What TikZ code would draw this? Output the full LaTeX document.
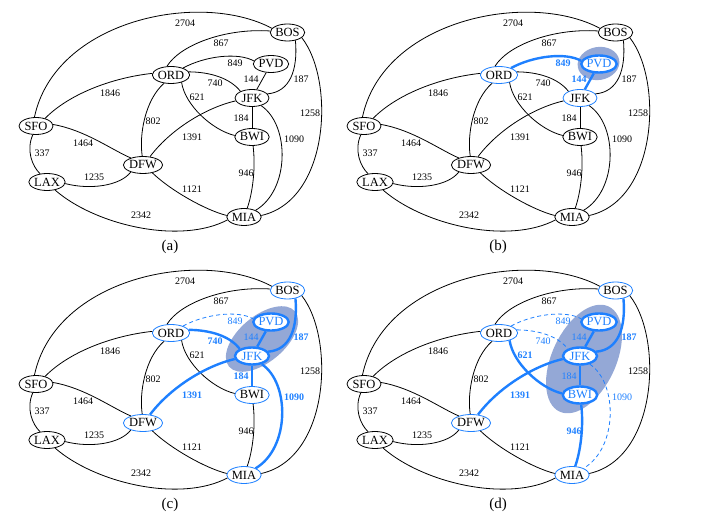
\documentclass[tikz,border=0pt]{standalone}
\usepackage{fontspec}
\setmainfont{Liberation Serif}
\usetikzlibrary{shapes.geometric}
\definecolor{blueC}{RGB}{30,128,255}
\definecolor{cloudC}{RGB}{148,168,214}
\newcommand\nodefont{\fontsize{12.5}{13}\selectfont}
\newcommand\labfont{\fontsize{10}{11}\selectfont}
\newcommand\capfont{\fontsize{15}{17}\selectfont}
\tikzset{
  airport/.style={ellipse, draw=black, line width=0.8pt, fill=white, minimum width=34pt, minimum height=17pt, inner sep=0pt, font=\nodefont},
  road/.style={draw=black, line width=0.8pt},
  wlab/.style={font=\labfont, inner sep=0pt},
  caplab/.style={font=\capfont, inner sep=0pt},
  visited/.style={draw=blueC},
  intree/.style={draw=blueC, line width=2.4pt, text=blueC},
  treeedge/.style={draw=blueC, line width=2.4pt},
  candidate/.style={draw=blueC, line width=0.8pt, dash pattern=on 4pt off 3pt},
  bluelab/.style={text=blueC},
  boldlab/.style={text=blueC, font=\labfont\bfseries},
  cloudfill/.style={fill=cloudC},
  nSFO/.style={}, nLAX/.style={}, nDFW/.style={}, nORD/.style={}, nBOS/.style={},
  nPVD/.style={}, nJFK/.style={}, nBWI/.style={}, nMIA/.style={},
  eSFOBOS/.style={}, eORDBOS/.style={}, eORDPVD/.style={}, ePVDJFK/.style={},
  eBOSJFK/.style={}, eORDJFK/.style={}, eORDBWI/.style={}, eORDSFO/.style={},
  eORDDFW/.style={}, eJFKDFW/.style={}, eJFKBWI/.style={}, eJFKMIA/.style={},
  eBOSMIA/.style={}, eBWIMIA/.style={}, eSFODFW/.style={}, eSFOLAX/.style={},
  eLAXDFW/.style={}, eDFWMIA/.style={}, eLAXMIA/.style={},
  lSFOBOS/.style={}, lORDBOS/.style={}, lORDPVD/.style={}, lPVDJFK/.style={},
  lBOSJFK/.style={}, lORDJFK/.style={}, lORDBWI/.style={}, lORDSFO/.style={},
  lORDDFW/.style={}, lJFKDFW/.style={}, lJFKBWI/.style={}, lJFKMIA/.style={},
  lBOSMIA/.style={}, lBWIMIA/.style={}, lSFODFW/.style={}, lSFOLAX/.style={},
  lLAXDFW/.style={}, lDFWMIA/.style={}, lLAXMIA/.style={},
}
\newcommand\airgraph[1]{%
  \node[airport,nSFO] (#1SFO) at (36,126) {SFO};
  \node[airport,nLAX] (#1LAX) at (47,182) {LAX};
  \node[airport,nDFW] (#1DFW) at (143,165) {DFW};
  \node[airport,nORD] (#1ORD) at (171,75) {ORD};
  \node[airport,nBOS] (#1BOS) at (287.5,32.5) {BOS};
  \node[airport,nPVD] (#1PVD) at (271,64) {PVD};
  \node[airport,nJFK] (#1JFK) at (252,98) {JFK};
  \node[airport,nBWI] (#1BWI) at (252,137) {BWI};
  \node[airport,nMIA] (#1MIA) at (244,217) {MIA};
  \draw[road,eSFOBOS] (#1SFO.100) .. controls (55,20) and (200,-10) .. (#1BOS.165);
  \draw[road,eORDBOS] (#1ORD.115) .. controls (180,45) and (225,28) .. (#1BOS.175);
  \draw[road,eORDPVD] (#1ORD.30) .. controls (205,56) and (238,52) .. (#1PVD.170);
  \draw[road,ePVDJFK] (#1PVD) -- (#1JFK);
  \draw[road,eBOSJFK] (#1BOS.-45) .. controls (298,70) and (290,92) .. (#1JFK.15);
  \draw[road,eORDJFK] (#1ORD.10) .. controls (210,72) and (230,78) .. (#1JFK.150);
  \draw[road,eORDBWI] (#1ORD.-35) .. controls (185,105) and (212,130) .. (#1BWI.175);
  \draw[road,eORDSFO] (#1ORD.175) .. controls (110,78) and (68,95) .. (#1SFO.40);
  \draw[road,eORDDFW] (#1ORD.-130) .. controls (145,100) and (139,135) .. (#1DFW.95);
  \draw[road,eJFKDFW] (#1JFK.190) .. controls (205,108) and (170,130) .. (#1DFW.50);
  \draw[road,eJFKBWI] (#1JFK) -- (#1BWI);
  \draw[road,eJFKMIA] (#1JFK.-40) .. controls (290,125) and (290,190) .. (#1MIA.30);
  \draw[road,eBOSMIA] (#1BOS.-20) .. controls (335,80) and (330,200) .. (#1MIA.5);
  \draw[road,eBWIMIA] (#1BWI) .. controls (256,170) and (252,195) .. (#1MIA);
  \draw[road,eSFODFW] (#1SFO.5) .. controls (85,130) and (112,150) .. (#1DFW.150);
  \draw[road,eSFOLAX] (#1SFO.-110) .. controls (26,150) and (32,166) .. (#1LAX.130);
  \draw[road,eLAXDFW] (#1LAX.-5) .. controls (90,190) and (120,186) .. (#1DFW.-150);
  \draw[road,eDFWMIA] (#1DFW.-40) .. controls (170,190) and (205,210) .. (#1MIA.175);
  \draw[road,eLAXMIA] (#1LAX.-45) .. controls (95,225) and (180,245) .. (#1MIA.-170);
  \node[wlab,lSFOBOS] (#1w2704) at (185,23) {2704};
  \node[wlab,lORDBOS] (#1w867) at (221,43) {867};
  \node[wlab,lORDPVD] (#1w849) at (235,63) {849};
  \node[wlab,lPVDJFK] (#1w144) at (251,79) {144};
  \node[wlab,lBOSJFK] (#1w187) at (301,79) {187};
  \node[wlab,lORDJFK] (#1w740) at (215,83) {740};
  \node[wlab,lORDBWI] (#1w621) at (197,97) {621};
  \node[wlab,lORDSFO] (#1w1846) at (110,93) {1846};
  \node[wlab,lORDDFW] (#1w802) at (153,121) {802};
  \node[wlab,lJFKDFW] (#1w1391) at (192,137) {1391};
  \node[wlab,lJFKBWI] (#1w184) at (241,118) {184};
  \node[wlab,lJFKMIA] (#1w1090) at (294,139) {1090};
  \node[wlab,lBOSMIA] (#1w1258) at (310,113) {1258};
  \node[wlab,lBWIMIA] (#1w946) at (246,173) {946};
  \node[wlab,lSFODFW] (#1w1464) at (83,143) {1464};
  \node[wlab,lSFOLAX] (#1w337) at (42,153) {337};
  \node[wlab,lLAXDFW] (#1w1235) at (94,177) {1235};
  \node[wlab,lDFWMIA] (#1w1121) at (192,189) {1121};
  \node[wlab,lLAXMIA] (#1w2342) at (141,215) {2342};
  \node[caplab] (#1cap) at (170,247) {(#1)};
}
\begin{document}
\begin{tikzpicture}[x=1pt,y=-1pt]
\useasboundingbox (0,0) rectangle (714,518);
% (a)
\begin{scope}
  \airgraph{a}
\end{scope}
% (b)
\begin{scope}[shift={(328,0)}]
  \tikzset{nORD/.style=visited, nJFK/.style=visited, nPVD/.style=intree,
    eORDPVD/.style=treeedge, ePVDJFK/.style=treeedge,
    lORDPVD/.style=boldlab, lPVDJFK/.style=boldlab}
  \fill[cloudfill, rotate around={10:(270.5,63.5)}] (270.5,63.5) ellipse [x radius=21, y radius=16.5];
  \airgraph{b}
\end{scope}
% (c)
\begin{scope}[shift={(0,258)}]
  \tikzset{nBOS/.style=visited, nORD/.style=visited, nDFW/.style=visited,
    nBWI/.style=visited, nMIA/.style=visited, nPVD/.style=intree, nJFK/.style=intree,
    eORDPVD/.style=candidate, lORDPVD/.style=bluelab,
    ePVDJFK/.style=treeedge, lPVDJFK/.style=bluelab,
    eBOSJFK/.style=treeedge, lBOSJFK/.style=boldlab,
    eORDJFK/.style=treeedge, lORDJFK/.style=boldlab,
    eJFKDFW/.style=treeedge, lJFKDFW/.style=boldlab,
    eJFKBWI/.style=treeedge, lJFKBWI/.style=boldlab,
    eJFKMIA/.style=treeedge, lJFKMIA/.style=boldlab}
  \fill[cloudfill, rotate around={40:(262,81)}] (262,81) ellipse [x radius=43, y radius=23];
  \airgraph{c}
\end{scope}
% (d)
\begin{scope}[shift={(328,258)}]
  \tikzset{nBOS/.style=visited, nORD/.style=visited, nDFW/.style=visited,
    nMIA/.style=visited, nPVD/.style=intree, nJFK/.style=intree, nBWI/.style=intree,
    eORDPVD/.style=candidate, lORDPVD/.style=bluelab,
    eORDJFK/.style=candidate, lORDJFK/.style=bluelab,
    eJFKMIA/.style=candidate, lJFKMIA/.style=bluelab,
    ePVDJFK/.style=treeedge, lPVDJFK/.style=bluelab,
    eJFKBWI/.style=treeedge, lJFKBWI/.style=bluelab,
    eBOSJFK/.style=treeedge, lBOSJFK/.style=boldlab,
    eJFKDFW/.style=treeedge, lJFKDFW/.style=boldlab,
    eORDBWI/.style=treeedge, lORDBWI/.style=boldlab,
    eBWIMIA/.style=treeedge, lBWIMIA/.style=boldlab}
  \fill[cloudfill, rotate around={65:(256,101)}] (256,101) ellipse [x radius=58, y radius=32];
  \airgraph{d}
\end{scope}
\end{tikzpicture}
\end{document}
